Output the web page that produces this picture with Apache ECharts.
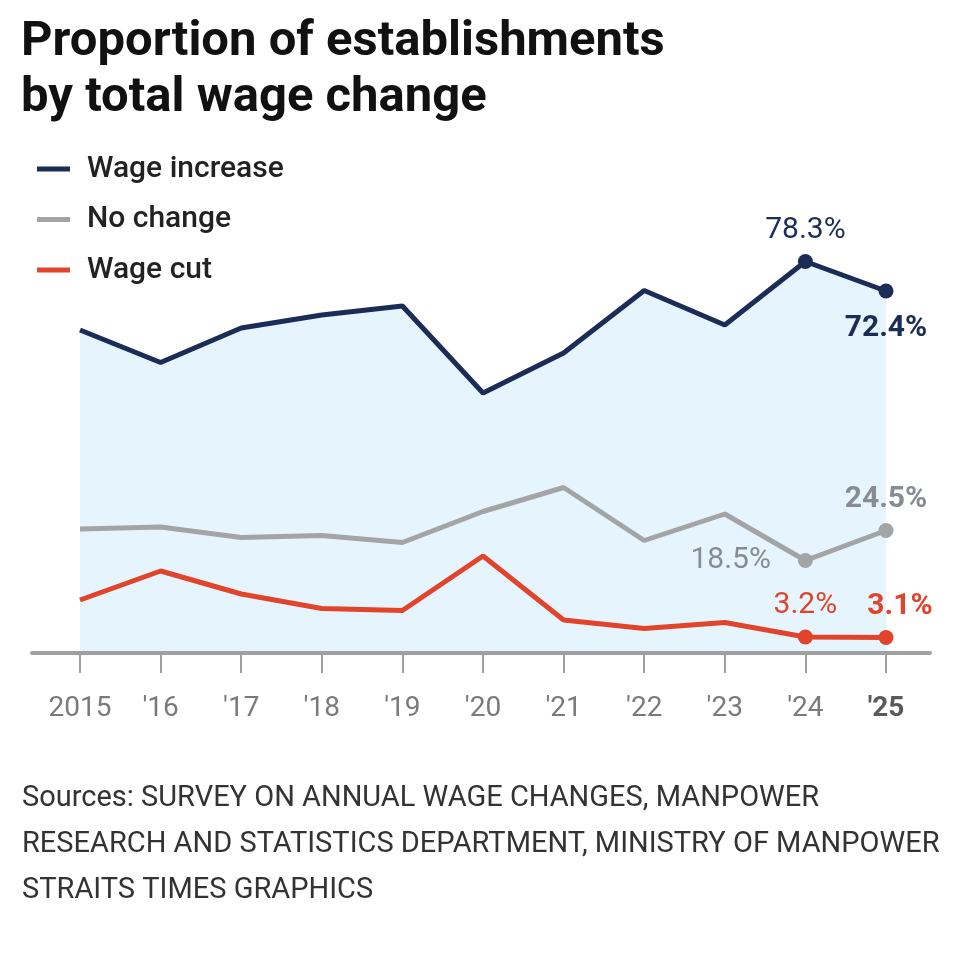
<!DOCTYPE html>
<html>
<head>
<meta charset="utf-8">
<title>Proportion of establishments by total wage change</title>
<script src="https://cdn.jsdelivr.net/npm/echarts@6/dist/echarts.min.js"></script>
<style>
  html, body { margin: 0; padding: 0; background: #fff; }
  #chart { width: 960px; height: 970px; }
</style>
</head>
<body>
<div id="chart"></div>
<script>
// data (% of establishments)
const years = ['2015', "'16", "'17", "'18", "'19", "'20", "'21", "'22", "'23", "'24", "'25"]
const wageIncrease = [64.6, 58.1, 65.0, 67.6, 69.4, 52.0, 60.0, 72.5, 65.6, 78.3, 72.4]
const noChange = [24.8, 25.2, 23.1, 23.5, 22.1, 28.3, 33.1, 22.5, 27.8, 18.5, 24.5]
const wageCut = [10.6, 16.4, 11.8, 8.9, 8.5, 19.4, 6.6, 4.9, 6.1, 3.2, 3.1]
const sourceLines = [
  'Sources: SURVEY ON ANNUAL WAGE CHANGES, MANPOWER',
  'RESEARCH AND STATISTICS DEPARTMENT, MINISTRY OF MANPOWER',
  'STRAITS TIMES GRAPHICS'
]

const FONT = 'Roboto, "Noto Sans", sans-serif'
const NAVY = '#1b2d57'
const GREY = '#a3a4a6'
const GREY_TEXT = '#878c93'
const RED = '#e2432b'

// only the last two years get a dot and a value label
const makeData = (values, labels) => values.map((v, i) => {
  if (!labels[i]) return { value: v, symbol: 'none' }
  return {
    value: v,
    symbol: 'circle',
    symbolSize: 15,
    label: Object.assign({ show: true, fontFamily: FONT, fontSize: 30, formatter: v.toFixed(1) + '%' }, labels[i])
  }
})

const chart = echarts.init(document.getElementById('chart'))

chart.setOption({
  animation: false,
  title: [
    {
      text: 'Proportion of establishments\nby total wage change',
      left: 21,
      top: 15,
      padding: 0,
      textStyle: { fontFamily: FONT, fontSize: 49, fontWeight: 'bold', color: '#111', lineHeight: 56 }
    },
    {
      text: sourceLines.join('\n'),
      left: 22,
      top: 776,
      padding: 0,
      textStyle: { fontFamily: FONT, fontSize: 29, fontWeight: 'normal', color: '#333', lineHeight: 46 }
    }
  ],
  legend: {
    orient: 'vertical',
    left: 37,
    top: 153,
    padding: 0,
    icon: 'rect',
    itemWidth: 33,
    itemHeight: 5,
    itemGap: 18.5,
    textStyle: { fontFamily: FONT, fontSize: 30, fontWeight: 500, color: '#222', lineHeight: 32, padding: [0, 0, 0, 12] },
    data: ['Wage increase', 'No change', 'Wage cut']
  },
  grid: [
    { left: 80, right: 74, top: 153, bottom: 317 },
    { left: 32, right: 30, top: 153, bottom: 317 }
  ],
  xAxis: [
    {
      type: 'category',
      gridIndex: 0,
      data: years,
      boundaryGap: false,
      axisLine: { show: false },
      axisTick: { show: true, interval: 0, length: 20, lineStyle: { color: '#a0a0a0', width: 2 } },
      axisLabel: {
        interval: 0,
        margin: 42,
        fontFamily: FONT,
        fontSize: 28,
        color: '#7a7a7a',
        formatter: (val, idx) => idx === years.length - 1 ? '{b|' + val + '}' : val,
        rich: { b: { fontFamily: FONT, fontSize: 28, fontWeight: 'bold', color: '#5a5a5a' } }
      }
    },
    {
      // long baseline reaching past the first and last year
      type: 'value',
      gridIndex: 1,
      min: 0,
      max: 1,
      z: 5,
      axisLine: { show: true, onZero: false, lineStyle: { color: '#a0a0a0', width: 4 } },
      axisTick: { show: false },
      axisLabel: { show: false },
      splitLine: { show: false }
    }
  ],
  yAxis: [
    { type: 'value', gridIndex: 0, min: 0, max: 100, show: false },
    { type: 'value', gridIndex: 1, min: 0, max: 100, show: false }
  ],
  series: [
    {
      name: 'Wage increase',
      type: 'line',
      xAxisIndex: 0,
      yAxisIndex: 0,
      data: makeData(wageIncrease, {
        9: { position: 'top', distance: 9, color: NAVY },
        10: { position: 'bottom', distance: 15, color: NAVY, fontWeight: 'bold' }
      }),
      lineStyle: { color: NAVY, width: 5 },
      itemStyle: { color: NAVY },
      areaStyle: { color: '#e6f5fd', opacity: 1 },
      z: 3
    },
    {
      name: 'No change',
      type: 'line',
      xAxisIndex: 0,
      yAxisIndex: 0,
      data: makeData(noChange, {
        9: { position: 'left', distance: 27, color: GREY_TEXT },
        10: { position: 'top', distance: 9, color: GREY_TEXT, fontWeight: 'bold' }
      }),
      lineStyle: { color: GREY, width: 5 },
      itemStyle: { color: GREY },
      z: 4
    },
    {
      name: 'Wage cut',
      type: 'line',
      xAxisIndex: 0,
      yAxisIndex: 0,
      data: makeData(wageCut, {
        9: { position: 'top', distance: 9, color: RED },
        10: { position: 'top', distance: 9, color: RED, fontWeight: 'bold', offset: [14, 0] }
      }),
      lineStyle: { color: RED, width: 5 },
      itemStyle: { color: RED },
      z: 4
    }
  ]
})
</script>
</body>
</html>
